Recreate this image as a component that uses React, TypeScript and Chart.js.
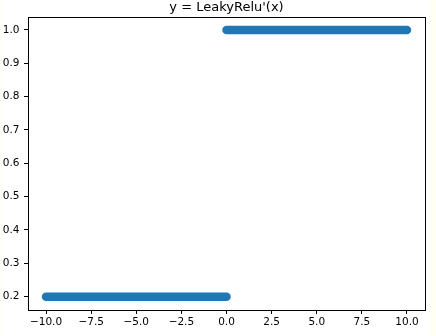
import React, { useEffect, useRef } from "react";
import { Chart, registerables } from "chart.js";

Chart.register(...registerables);

const titleText = "y = LeakyRelu'(x)";
const negX = [-10, 0];
const negY = [0.2, 0.2];
const posX = [0, 10];
const posY = [1.0, 1.0];
const xTicks = [-10, -7.5, -5, -2.5, 0, 2.5, 5, 7.5, 10];
const yTicks = [0.2, 0.3, 0.4, 0.5, 0.6, 0.7, 0.8, 0.9, 1.0];

const fmt = (v: number) => {
  const s = Math.abs(v).toFixed(1);
  return v < 0 ? "\u2212" + s : s;
};

const boxPlugin = {
  id: "box",
  beforeDraw(chart: any) {
    const ctx = chart.ctx;
    ctx.save();
    ctx.fillStyle = "#fffff2";
    ctx.fillRect(0, 0, chart.width, chart.height);
    ctx.fillStyle = "#ffffff";
    ctx.fillRect(1, 0, 429, chart.height);
    ctx.restore();
  },
  afterDatasetsDraw(chart: any) {
    const { left, top, right, bottom } = chart.chartArea;
    const ctx = chart.ctx;
    ctx.save();
    ctx.strokeStyle = "#000000";
    ctx.lineWidth = 1;
    ctx.strokeRect(Math.round(left) + 0.5, Math.round(top) + 0.5, Math.round(right - left), Math.round(bottom - top));
    ctx.restore();
  },
};

export default function App() {
  const ref = useRef<HTMLCanvasElement>(null);
  useEffect(() => {
    const font = "'DejaVu Sans', sans-serif";
    const chart = new Chart(ref.current!, {
      type: "line",
      data: {
        datasets: [
          {
            data: negX.map((x, i) => ({ x, y: negY[i] })),
            borderColor: "#1f77b4",
            borderWidth: 8.5,
            borderCapStyle: "round",
            pointRadius: 0,
          },
          {
            data: posX.map((x, i) => ({ x, y: posY[i] })),
            borderColor: "#1f77b4",
            borderWidth: 8.5,
            borderCapStyle: "round",
            pointRadius: 0,
          },
        ],
      },
      options: {
        responsive: false,
        animation: false,
        devicePixelRatio: 1,
        layout: { padding: { left: 0, right: 11, top: 0, bottom: 0 } },
        plugins: {
          legend: { display: false },
          tooltip: { enabled: false },
          title: {
            display: true,
            text: titleText,
            fullSize: false,
            color: "#000000",
            font: { family: font, size: 13, weight: "normal" },
            padding: { top: 0, bottom: 1 },
          },
        },
        scales: {
          x: {
            type: "linear",
            min: -11,
            max: 11,
            afterBuildTicks: (s: any) => {
              s.ticks = xTicks.map((v) => ({ value: v }));
            },
            afterFit: (s: any) => {
              s.height = 26;
            },
            ticks: {
              color: "#000000",
              font: { family: font, size: 10.5 },
              padding: 2,
              maxRotation: 0,
              autoSkip: false,
              callback: (v: any) => fmt(Number(v)),
            },
            grid: {
              drawOnChartArea: false,
              drawTicks: true,
              tickLength: 4,
              tickColor: "#000000",
              tickWidth: 1,
            },
            border: { display: false },
          },
          y: {
            type: "linear",
            min: 0.16,
            max: 1.04,
            afterBuildTicks: (s: any) => {
              s.ticks = yTicks.map((v) => ({ value: v }));
            },
            afterFit: (s: any) => {
              s.width = 28;
            },
            ticks: {
              color: "#000000",
              font: { family: font, size: 10.5 },
              padding: 4.5,
              autoSkip: false,
              callback: (v: any) => Number(v).toFixed(1),
            },
            grid: {
              drawOnChartArea: false,
              drawTicks: true,
              tickLength: 4,
              tickColor: "#000000",
              tickWidth: 1,
            },
            border: { display: false },
          },
        },
      },
      plugins: [boxPlugin],
    } as any);
    return () => chart.destroy();
  }, []);
  return (
    <div style={{ position: "fixed", left: 0, top: 0, width: 436, height: 336 }}>
      <canvas ref={ref} width={436} height={336} style={{ display: "block" }} />
    </div>
  );
}
